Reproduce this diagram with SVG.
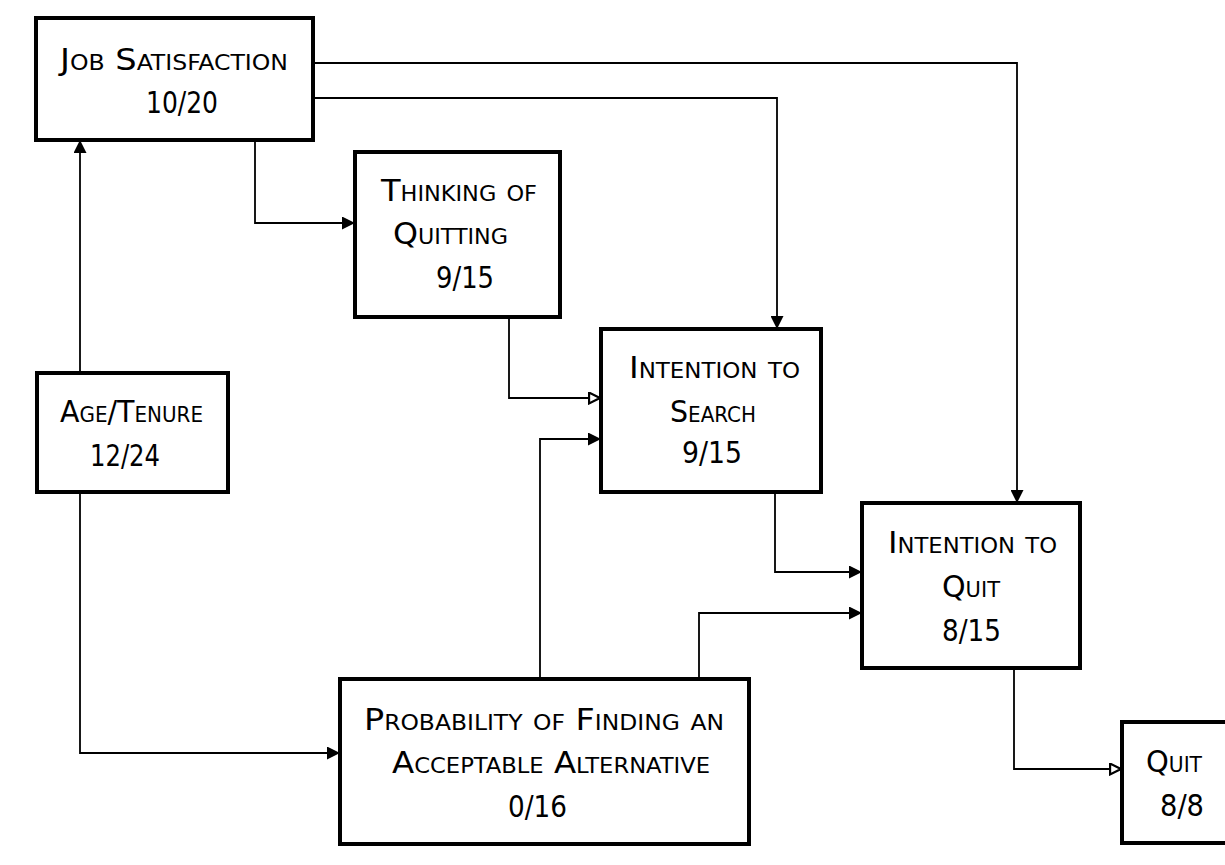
<svg xmlns="http://www.w3.org/2000/svg" width="1225" height="865" viewBox="0 0 1225 865">
<style>
.b{fill:#fff;stroke:#000;stroke-width:4}
.t{font-family:"DejaVu Sans Condensed","Liberation Sans",sans-serif;font-size:30px;font-variant:small-caps;fill:#000}
.c{fill:none;stroke:#000;stroke-width:1.8}
</style>
<defs>
<marker id="a" viewBox="0 0 12 12" refX="12" refY="6" markerWidth="13" markerHeight="13" markerUnits="userSpaceOnUse" orient="auto"><path d="M0,0L12,6L0,12z" fill="#000"/></marker>
<marker id="o" viewBox="0 0 12 12" refX="12" refY="6" markerWidth="13" markerHeight="13" markerUnits="userSpaceOnUse" orient="auto"><path d="M1,1L11,6L1,11z" fill="#fff" stroke="#000" stroke-width="2"/></marker>
</defs>
<rect width="1225" height="865" fill="#fff"/>
<g id="connectors">
<path class="c" d="M313,63H1017V503" marker-end="url(#a)"/>
<path class="c" d="M313,98H777V329" marker-end="url(#a)"/>
<path class="c" d="M255,140V223H355" marker-end="url(#a)"/>
<path class="c" d="M80,373V140" marker-end="url(#a)"/>
<path class="c" d="M80,492V753H340" marker-end="url(#a)"/>
<path class="c" d="M509,317V398H601" marker-end="url(#o)"/>
<path class="c" d="M540,679V439H601" marker-end="url(#a)"/>
<path class="c" d="M775,492V572H862" marker-end="url(#a)"/>
<path class="c" d="M699,679V613H862" marker-end="url(#a)"/>
<path class="c" d="M1014,668V769H1122" marker-end="url(#o)"/>
</g>
<g id="job"><rect class="b" x="36" y="18" width="277" height="122"/><text class="t" x="60" y="70" textLength="228" lengthAdjust="spacingAndGlyphs">Job Satisfaction</text><text class="t" x="146" y="113" textLength="72" lengthAdjust="spacingAndGlyphs">10/20</text></g>
<g id="think"><rect class="b" x="355" y="152" width="205" height="165"/><text class="t" x="381" y="201" textLength="156" lengthAdjust="spacingAndGlyphs">Thinking of</text><text class="t" x="393" y="244" textLength="115" lengthAdjust="spacingAndGlyphs">Quitting</text><text class="t" x="436" y="288" textLength="58" lengthAdjust="spacingAndGlyphs">9/15</text></g>
<g id="age"><rect class="b" x="37" y="373" width="191" height="119"/><text class="t" x="60" y="422" textLength="143" lengthAdjust="spacingAndGlyphs">Age/Tenure</text><text class="t" x="90" y="466" textLength="70" lengthAdjust="spacingAndGlyphs">12/24</text></g>
<g id="search"><rect class="b" x="601" y="329" width="220" height="163"/><text class="t" x="629" y="378" textLength="171" lengthAdjust="spacingAndGlyphs">Intention to</text><text class="t" x="670" y="422" textLength="86" lengthAdjust="spacingAndGlyphs">Search</text><text class="t" x="682" y="463" textLength="60" lengthAdjust="spacingAndGlyphs">9/15</text></g>
<g id="iquit"><rect class="b" x="862" y="503" width="218" height="165"/><text class="t" x="888" y="553" textLength="169" lengthAdjust="spacingAndGlyphs">Intention to</text><text class="t" x="942" y="597" textLength="58" lengthAdjust="spacingAndGlyphs">Quit</text><text class="t" x="942" y="641" textLength="59" lengthAdjust="spacingAndGlyphs">8/15</text></g>
<g id="prob"><rect class="b" x="340" y="679" width="409" height="165"/><text class="t" x="364" y="730" textLength="360" lengthAdjust="spacingAndGlyphs">Probability of Finding an</text><text class="t" x="392" y="773" textLength="318" lengthAdjust="spacingAndGlyphs">Acceptable Alternative</text><text class="t" x="508" y="817" textLength="59" lengthAdjust="spacingAndGlyphs">0/16</text></g>
<g id="quit"><rect class="b" x="1122" y="722" width="110" height="121"/><text class="t" x="1146" y="772" textLength="56" lengthAdjust="spacingAndGlyphs">Quit</text><text class="t" x="1160" y="816" textLength="44" lengthAdjust="spacingAndGlyphs">8/8</text></g>
</svg>
